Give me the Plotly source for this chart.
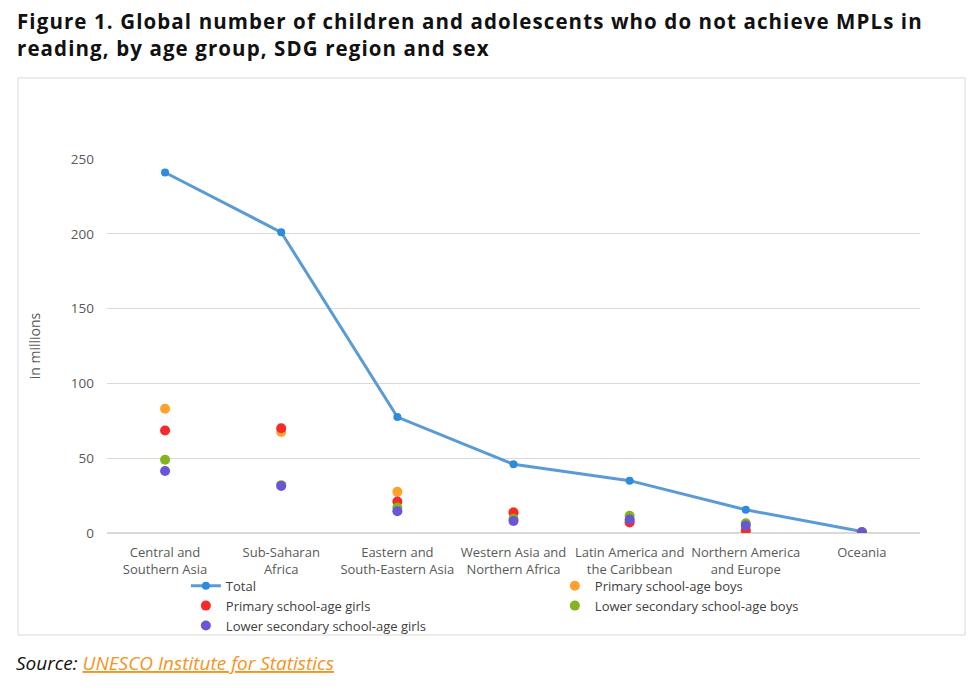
import plotly.graph_objects as go

regions = ["Central and<br>Southern Asia", "Sub-Saharan<br>Africa", "Eastern and<br>South-Eastern Asia",
           "Western Asia and<br>Northern Africa", "Latin America and<br>the Caribbean",
           "Northern America<br>and Europe", "Oceania"]
total = [241, 201, 77.5, 46, 35, 15.5, 1]
primary_boys = [83, 67.5, 27.5, 14, 8, 2, 0.5]
primary_girls = [68.5, 70, 21, 13.5, 7, 1.5, 0.5]
lower_sec_boys = [49, 32, 17, 9.5, 11.5, 6.5, 0.5]
lower_sec_girls = [41.5, 31.5, 14.5, 8, 9, 5, 0.5]
y_ticks = [0, 50, 100, 150, 200, 250]

FONT = "Open Sans"
# page is offset by 8px body margin; figure coords = page coords - 8
L, T, PW, PH = 99, 151, 813, 374
W, H = 962, 684

def px(xp):
    return (xp - 8 - L) / PW

def py(yp):
    return (T + PH - (yp - 8)) / PH

fig = go.Figure()
fig.add_trace(go.Scatter(x=regions, y=total, name="Total", mode="lines+markers",
                         line=dict(color="#5B9BD5", width=3),
                         marker=dict(color="#2E8BDB", size=8)))
fig.add_trace(go.Scatter(x=regions, y=primary_boys, name="Primary school-age boys", mode="markers",
                         marker=dict(color="#FFA12B", size=10)))
fig.add_trace(go.Scatter(x=regions, y=primary_girls, name="Primary school-age girls", mode="markers",
                         marker=dict(color="#F52A2A", size=10)))
fig.add_trace(go.Scatter(x=regions, y=lower_sec_boys, name="Lower secondary school-age boys", mode="markers",
                         marker=dict(color="#82B51E", size=10)))
fig.add_trace(go.Scatter(x=regions, y=lower_sec_girls, name="Lower secondary school-age girls", mode="markers",
                         marker=dict(color="#6A55D6", size=10)))

fig.update_layout(
    width=W, height=H,
    margin=dict(l=L, r=W - L - PW, t=T, b=H - T - PH),
    paper_bgcolor="white", plot_bgcolor="white",
    font=dict(family=FONT, size=13, color="#595959"),
    xaxis=dict(type="category", range=[-0.5, 6.5], showgrid=False, showline=False,
               ticks="", ticklabelstandoff=10, tickfont=dict(size=13, color="#595959")),
    yaxis=dict(range=[0, 250], tickvals=y_ticks, showgrid=True, gridcolor="#D9D9D9", gridwidth=1,
               zeroline=True, zerolinecolor="#D9D9D9", zerolinewidth=1.5, showline=False,
               ticks="", ticklabelstandoff=12, tickfont=dict(size=13.5, color="#595959"),
               title=dict(text="in millions", standoff=26, font=dict(size=14, color="#595959"))),
    legend=dict(orientation="h", x=0.097, xanchor="left", y=-0.101, yanchor="top",
                entrywidth=324, entrywidthmode="pixels", tracegroupgap=0,
                bgcolor="rgba(0,0,0,0)",
                font=dict(size=13, color="#404040")),
    showlegend=True,
)

fig.add_shape(type="rect", xref="paper", yref="paper",
              x0=px(18), x1=px(965), y0=py(635), y1=py(78),
              line=dict(color="#D9D9D9", width=1), fillcolor="rgba(0,0,0,0)", layer="below")

fig.add_annotation(xref="paper", yref="paper", x=px(15), y=py(5),
                   xanchor="left", yanchor="top", align="left", showarrow=False,
                   text="<b><span style='letter-spacing:1.1px'>Figure 1. Global number of children and adolescents who do not achieve MPLs in</span><br>"
                        "<span style='letter-spacing:1.1px'>reading, by age group, SDG region and sex</span></b>",
                   font=dict(family=FONT, size=20.5, color="#111111"))
fig.add_annotation(xref="paper", yref="paper", x=px(14), y=py(663),
                   xanchor="left", yanchor="middle", align="left", showarrow=False,
                   text="<i>Source: <span style='color:#F7931E'><u>UNESCO Institute for Statistics</u></span></i>",
                   font=dict(family=FONT, size=19, color="#111111"))

fig.write_html("out.html")
